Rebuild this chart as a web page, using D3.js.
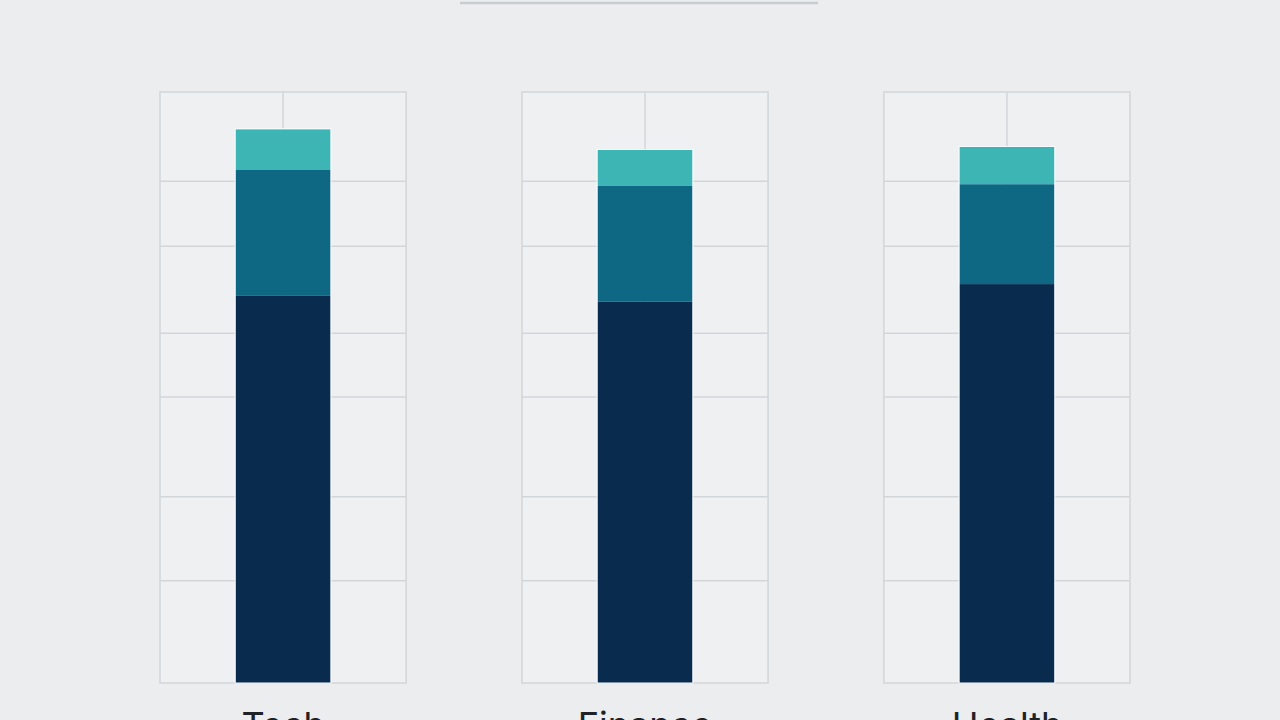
<!DOCTYPE html>
<html>
<head>
<meta charset="utf-8">
<script src="https://cdn.jsdelivr.net/npm/d3@7"></script>
<style>
  html, body { margin: 0; padding: 0; background: #ebedef; }
  svg { display: block; }
</style>
</head>
<body>
<script>
var categories = ["Tech", "Finance", "Health"];
var seriesNames = ["base", "middle", "top"];
var baseValues = [65.5, 64.5, 67.5];
var middleValues = [21.3, 19.6, 16.9];
var topValues = [6.9, 6.1, 6.3];
var gridValues = [17.3, 31.5, 48.4, 59.2, 73.9, 84.9];

var width = 1280,
    height = 720;
var colors = ["#092c4e", "#0e6884", "#3db5b5"];

var rows = categories.map(function (c, i) {
  return { cat: c, base: baseValues[i], middle: middleValues[i], top: topValues[i] };
});
var stacked = d3.stack().keys(seriesNames)(rows);

var svg = d3.select("body").append("svg")
  .attr("width", width)
  .attr("height", height);

// cut-off title rule
svg.append("line")
  .attr("x1", 460).attr("x2", 818)
  .attr("y1", 3).attr("y2", 3)
  .attr("stroke", "#c9cdd1")
  .attr("stroke-width", 2.5);

var x = d3.scaleBand()
  .domain(categories)
  .range([160, 1130])
  .paddingInner(0.32)
  .paddingOuter(0);

var y = d3.scaleLinear()
  .domain([0, 100])
  .range([683, 92]);

var barWidth = 95;

var panel = svg.selectAll("g.panel")
  .data(categories)
  .enter().append("g")
  .attr("class", "panel")
  .attr("transform", function (d) { return "translate(" + x(d) + ",0)"; });

panel.append("rect")
  .attr("x", 0)
  .attr("y", y(100))
  .attr("width", x.bandwidth())
  .attr("height", y(0) - y(100))
  .attr("fill", "#eef0f2")
  .attr("stroke", "#d3d6d9")
  .attr("stroke-width", 1.5);

// horizontal grid
panel.each(function () {
  var g = d3.select(this);
  g.selectAll("line.h")
    .data(gridValues)
    .enter().append("line")
    .attr("class", "h")
    .attr("x1", 0)
    .attr("x2", x.bandwidth())
    .attr("y1", function (v) { return y(v); })
    .attr("y2", function (v) { return y(v); })
    .attr("stroke", "#d3d6d9")
    .attr("stroke-width", 1.5);
  g.append("line")
    .attr("x1", x.bandwidth() / 2)
    .attr("x2", x.bandwidth() / 2)
    .attr("y1", y(100))
    .attr("y2", y(0))
    .attr("stroke", "#d3d6d9")
    .attr("stroke-width", 1.5);
});

// stacked bars
svg.selectAll("g.layer")
  .data(stacked)
  .enter().append("g")
  .attr("class", "layer")
  .attr("fill", function (d, i) { return colors[i]; })
  .selectAll("rect")
  .data(function (d) { return d; })
  .enter().append("rect")
  .attr("x", function (d) { return x(d.data.cat) + (x.bandwidth() - barWidth) / 2; })
  .attr("width", barWidth)
  .attr("y", function (d) { return y(d[1]); })
  .attr("height", function (d) { return y(d[0]) - y(d[1]); });

// faint glow outline around each bar
svg.selectAll("rect.outline")
  .data(rows)
  .enter().append("rect")
  .attr("class", "outline")
  .attr("x", function (d) { return x(d.cat) + (x.bandwidth() - barWidth) / 2 - 0.5; })
  .attr("width", barWidth + 1)
  .attr("y", function (d) { return y(d.base + d.middle + d.top) - 0.5; })
  .attr("height", function (d) { return y(0) - y(d.base + d.middle + d.top) + 0.5; })
  .attr("fill", "none")
  .attr("stroke", "#f7fbff")
  .attr("stroke-width", 1);

// category labels
svg.selectAll("text.cat")
  .data(categories)
  .enter().append("text")
  .attr("class", "cat")
  .attr("x", function (d) { return x(d) + x.bandwidth() / 2; })
  .attr("y", 738)
  .attr("text-anchor", "middle")
  .attr("font-family", "Inter, 'Noto Sans', sans-serif")
  .attr("font-size", 36)
  .attr("fill", "#1e2226")
  .text(function (d) { return d; });
</script>
</body>
</html>
